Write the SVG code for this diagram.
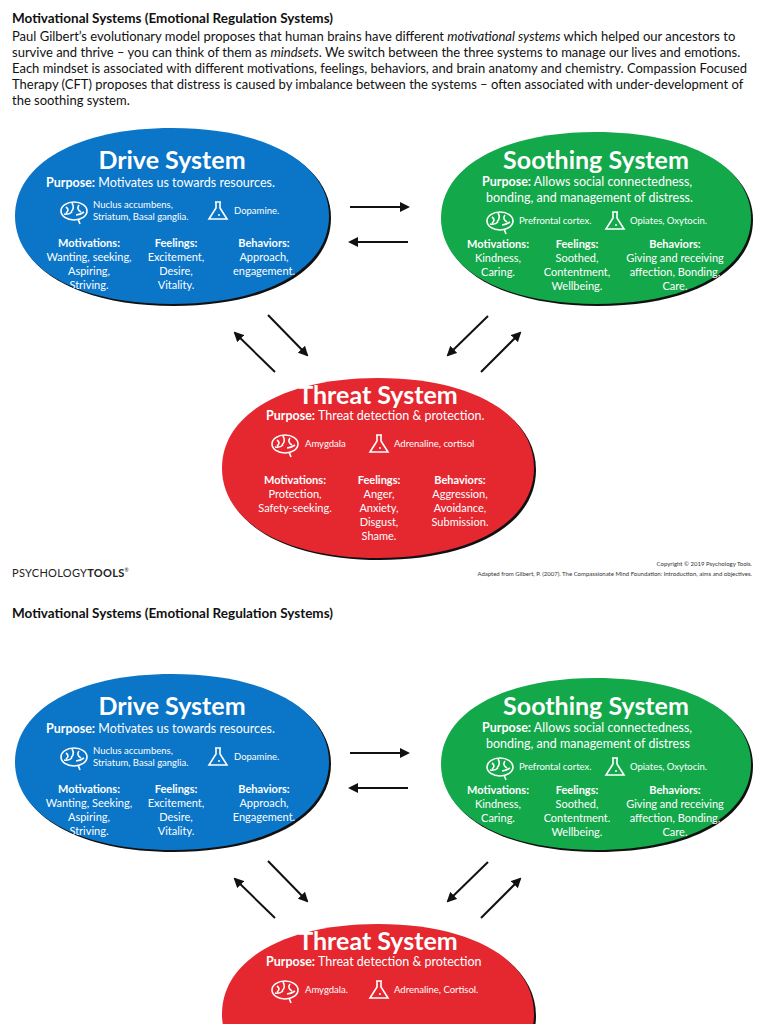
<svg xmlns="http://www.w3.org/2000/svg" xmlns:xlink="http://www.w3.org/1999/xlink" width="768" height="1024" viewBox="0 0 768 1024">
<style>
text{font-family:Lato,"Liberation Sans",sans-serif;}
.h{font-size:13.5px;font-weight:bold;fill:#111}
.p{font-size:13px;fill:#111}
.t{font-size:25px;font-weight:bold;fill:#fff;text-anchor:middle}
.w{font-size:12.5px;fill:#fff}
.wb{font-weight:bold}
.s{font-size:9.5px;fill:#fff}
.c{font-size:11px;fill:#fff;text-anchor:middle}
.cb{font-size:11px;fill:#fff;text-anchor:middle;font-weight:bold}
.ic{fill:none;stroke:#fff;stroke-width:1.6}
.ar{stroke:#111;stroke-width:2;fill:none;marker-end:url(#m)}
.ft{font-size:6px;fill:#333;text-anchor:end}
.sh{fill:#111}
</style>
<defs>
<marker id="m" markerWidth="10" markerHeight="10" refX="8" refY="5" orient="auto" markerUnits="userSpaceOnUse"><path d="M0,0 L10,5 L0,10 Z" fill="#111"/></marker>
<g id="brain"><ellipse class="ic" cx="0" cy="0" rx="13" ry="9"/><path class="ic" d="M-8,-4 q4,3 0,6 M-2,-8 q3,5 -1,9 M5,-6 q-3,4 2,7 M-10,3 q5,1 8,-2 M2,4 q4,0 8,-3 M4,8 l2,5"/></g>
<g id="flask"><path class="ic" d="M-3,-9 h6 M-2,-9 v6 l-7,11 h18 l-7,-11 v-6"/><circle cx="1" cy="4" r="1" fill="#fff"/></g>
<path id="eD" d="M15,216 C15,163.2 77.8,128 172,128 C266.2,128 329,163.2 329,216 C329,268.8 266.2,304 172,304 C77.8,304 15,268.8 15,216Z"/>
<path id="eS" d="M441,218 C441,166.4 503,132 596,132 C689,132 751,166.4 751,218 C751,269.6 689,304 596,304 C503,304 441,269.6 441,218Z"/>
<path id="eT" d="M222,468 C222,414 284.4,378 378,378 C471.6,378 534,414 534,468 C534,522 471.6,558 378,558 C284.4,558 222,522 222,468Z"/>
</defs>
<rect width="768" height="1024" fill="#fff"/>
<text x="12" y="23" class="h">Motivational Systems (Emotional Regulation Systems)</text>
<text class="p"><tspan x="12" y="41">Paul Gilbert’s evolutionary model proposes that human brains have different <tspan font-style="italic">motivational systems</tspan> which helped our ancestors to</tspan><tspan x="12" y="57">survive and thrive – you can think of them as <tspan font-style="italic">mindsets</tspan>.  We switch between the three systems to manage our lives and emotions.</tspan><tspan x="12" y="73">Each mindset is associated with different motivations, feelings, behaviors, and brain anatomy and chemistry.  Compassion Focused</tspan><tspan x="12" y="89">Therapy (CFT) proposes that distress is caused by imbalance between the systems – often associated with under-development of</tspan><tspan x="12" y="105">the soothing system.</tspan></text>

<g id="drive1">
<use xlink:href="#eD" class="sh" transform="translate(2,2)"/>
<use xlink:href="#eD" fill="#0b75c8"/>
<text x="172" y="169" class="t">Drive System</text>
<text x="46" y="187" class="w"><tspan class="wb">Purpose:</tspan> Motivates us towards resources.</text>
<use xlink:href="#brain" x="74" y="211"/>
<text class="s"><tspan x="93" y="208">Nuclus accumbens,</tspan><tspan x="93" y="220">Striatum, Basal ganglia.</tspan></text>
<use xlink:href="#flask" x="218" y="211"/>
<text x="234" y="214" class="s">Dopamine.</text>
<text class="cb"><tspan x="89" y="247">Motivations:</tspan><tspan x="176" y="247">Feelings:</tspan><tspan x="264" y="247">Behaviors:</tspan></text>
<text class="c"><tspan x="89" y="261">Wanting, seeking,</tspan><tspan x="89" y="275">Aspiring,</tspan><tspan x="89" y="289">Striving.</tspan><tspan x="176" y="261">Excitement,</tspan><tspan x="176" y="275">Desire,</tspan><tspan x="176" y="289">Vitality.</tspan><tspan x="264" y="261">Approach,</tspan><tspan x="264" y="275">engagement.</tspan></text>
</g>

<g id="soothing1">
<use xlink:href="#eS" class="sh" transform="translate(2,2)"/>
<use xlink:href="#eS" fill="#13a84a"/>
<text x="596" y="169" class="t">Soothing System</text>
<text x="482" y="186" class="w"><tspan class="wb">Purpose:</tspan> Allows social connectedness,</text>
<text x="486" y="202" class="w">bonding, and management of distress.</text>
<use xlink:href="#brain" x="500" y="221"/>
<text x="519" y="224" class="s">Prefrontal cortex.</text>
<use xlink:href="#flask" x="615" y="221"/>
<text x="630" y="224" class="s">Opiates, Oxytocin.</text>
<text class="cb"><tspan x="498" y="248">Motivations:</tspan><tspan x="577" y="248">Feelings:</tspan><tspan x="675" y="248">Behaviors:</tspan></text>
<text class="c"><tspan x="498" y="262">Kindness,</tspan><tspan x="498" y="276">Caring.</tspan><tspan x="577" y="262">Soothed,</tspan><tspan x="577" y="276">Contentment,</tspan><tspan x="577" y="290">Wellbeing.</tspan><tspan x="675" y="262">Giving and receiving</tspan><tspan x="675" y="276">affection, Bonding,</tspan><tspan x="675" y="290">Care.</tspan></text>
</g>

<g id="threat1">
<use xlink:href="#eT" class="sh" transform="translate(2,2)"/>
<use xlink:href="#eT" fill="#e52730"/>
<text x="378" y="404" class="t" font-size="23.5">Threat System</text>
<text x="266" y="420" class="w"><tspan class="wb">Purpose:</tspan> Threat detection &amp; protection.</text>
<use xlink:href="#brain" x="285" y="444"/>
<text x="305" y="447" class="s">Amygdala</text>
<use xlink:href="#flask" x="379" y="444"/>
<text x="394" y="447" class="s">Adrenaline, cortisol</text>
<text class="cb"><tspan x="295" y="484">Motivations:</tspan><tspan x="379" y="484">Feelings:</tspan><tspan x="460" y="484">Behaviors:</tspan></text>
<text class="c"><tspan x="295" y="498">Protection,</tspan><tspan x="295" y="512">Safety-seeking.</tspan><tspan x="379" y="498">Anger,</tspan><tspan x="379" y="512">Anxiety,</tspan><tspan x="379" y="526">Disgust,</tspan><tspan x="379" y="540">Shame.</tspan><tspan x="460" y="498">Aggression,</tspan><tspan x="460" y="512">Avoidance,</tspan><tspan x="460" y="526">Submission.</tspan></text>
</g>

<g id="connectors1">
<line class="ar" x1="350" y1="207" x2="408" y2="207"/>
<line class="ar" x1="408" y1="242" x2="350" y2="242"/>
<line class="ar" x1="275" y1="372" x2="235" y2="333"/>
<line class="ar" x1="268" y1="315" x2="307" y2="355"/>
<line class="ar" x1="488" y1="316" x2="448" y2="355"/>
<line class="ar" x1="481" y1="372" x2="520" y2="333"/>
</g>

<text x="12" y="577" font-size="11" fill="#222" letter-spacing="0.3">PSYCHOLOGY<tspan font-weight="bold">TOOLS</tspan><tspan font-size="5" dy="-5">®</tspan></text>
<text x="752" y="566" class="ft">Copyright © 2019 Psychology Tools.</text>
<text x="752" y="576" class="ft">Adapted from Gilbert, P. (2007). The Compassionate Mind Foundation: Introduction, aims and objectives.</text>

<text x="12" y="618" class="h">Motivational Systems (Emotional Regulation Systems)</text>

<g id="drive2" transform="translate(0,546)">
<use xlink:href="#eD" class="sh" transform="translate(2,2)"/>
<use xlink:href="#eD" fill="#0b75c8"/>
<text x="172" y="169" class="t">Drive System</text>
<text x="46" y="187" class="w"><tspan class="wb">Purpose:</tspan> Motivates us towards resources.</text>
<use xlink:href="#brain" x="74" y="211"/>
<text class="s"><tspan x="93" y="208">Nuclus accumbens,</tspan><tspan x="93" y="220">Striatum, Basal ganglia.</tspan></text>
<use xlink:href="#flask" x="218" y="211"/>
<text x="234" y="214" class="s">Dopamine.</text>
<text class="cb"><tspan x="89" y="247">Motivations:</tspan><tspan x="176" y="247">Feelings:</tspan><tspan x="264" y="247">Behaviors:</tspan></text>
<text class="c"><tspan x="89" y="261">Wanting, Seeking,</tspan><tspan x="89" y="275">Aspiring,</tspan><tspan x="89" y="289">Striving.</tspan><tspan x="176" y="261">Excitement,</tspan><tspan x="176" y="275">Desire,</tspan><tspan x="176" y="289">Vitality.</tspan><tspan x="264" y="261">Approach,</tspan><tspan x="264" y="275">Engagement.</tspan></text>
</g>

<g id="soothing2" transform="translate(0,546)">
<use xlink:href="#eS" class="sh" transform="translate(2,2)"/>
<use xlink:href="#eS" fill="#13a84a"/>
<text x="596" y="169" class="t">Soothing System</text>
<text x="482" y="186" class="w"><tspan class="wb">Purpose:</tspan> Allows social connectedness,</text>
<text x="486" y="202" class="w">bonding, and management of distress</text>
<use xlink:href="#brain" x="500" y="221"/>
<text x="519" y="224" class="s">Prefrontal cortex.</text>
<use xlink:href="#flask" x="615" y="221"/>
<text x="630" y="224" class="s">Opiates, Oxytocin.</text>
<text class="cb"><tspan x="498" y="248">Motivations:</tspan><tspan x="577" y="248">Feelings:</tspan><tspan x="675" y="248">Behaviors:</tspan></text>
<text class="c"><tspan x="498" y="262">Kindness,</tspan><tspan x="498" y="276">Caring.</tspan><tspan x="577" y="262">Soothed,</tspan><tspan x="577" y="276">Contentment.</tspan><tspan x="577" y="290">Wellbeing.</tspan><tspan x="675" y="262">Giving and receiving</tspan><tspan x="675" y="276">affection, Bonding,</tspan><tspan x="675" y="290">Care.</tspan></text>
</g>

<g id="threat2" transform="translate(0,546)">
<use xlink:href="#eT" class="sh" transform="translate(2,2)"/>
<use xlink:href="#eT" fill="#e52730"/>
<text x="378" y="404" class="t" font-size="23.5">Threat System</text>
<text x="266" y="420" class="w"><tspan class="wb">Purpose:</tspan> Threat detection &amp; protection</text>
<use xlink:href="#brain" x="285" y="444"/>
<text x="305" y="447" class="s">Amygdala.</text>
<use xlink:href="#flask" x="379" y="444"/>
<text x="394" y="447" class="s">Adrenaline, Cortisol.</text>
</g>

<g id="connectors2" transform="translate(0,546)">
<line class="ar" x1="350" y1="207" x2="408" y2="207"/>
<line class="ar" x1="408" y1="242" x2="350" y2="242"/>
<line class="ar" x1="275" y1="372" x2="235" y2="333"/>
<line class="ar" x1="268" y1="315" x2="307" y2="355"/>
<line class="ar" x1="488" y1="316" x2="448" y2="355"/>
<line class="ar" x1="481" y1="372" x2="520" y2="333"/>
</g>
</svg>
